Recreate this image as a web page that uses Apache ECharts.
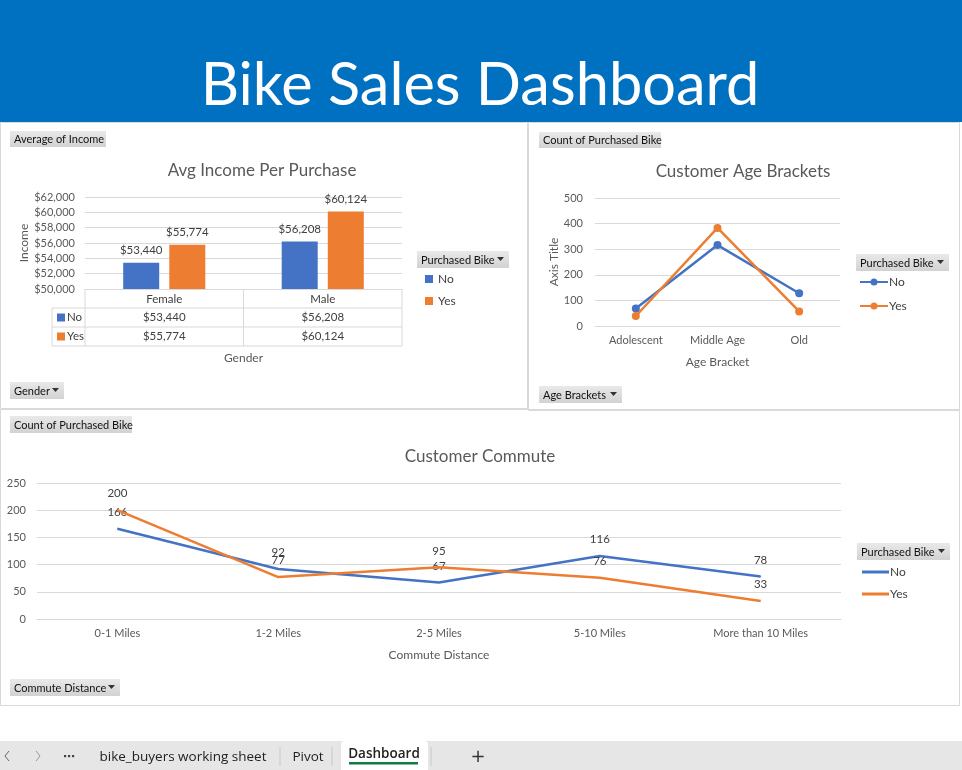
<!DOCTYPE html>
<html><head><meta charset="utf-8">
<script src="https://cdn.jsdelivr.net/npm/echarts@6/dist/echarts.min.js"></script>
<style>html,body{margin:0;padding:0;background:#fff}#c{width:962px;height:770px}</style>
</head><body><div id="c"></div><script>
// ---- data ----
const genderCats = ['Female', 'Male'];
const incomeNo = [53440, 56208];
const incomeYes = [55774, 60124];
const incomeAxis = [50000, 62000, 2000];

const ageCats = ['Adolescent', 'Middle Age', 'Old'];
const ageNo = [68, 316, 128];
const ageYes = [39, 383, 57];
const ageAxis = [0, 500, 100];

const commuteCats = ['0-1 Miles', '1-2 Miles', '2-5 Miles', '5-10 Miles', 'More than 10 Miles'];
const commuteNo = [166, 92, 67, 116, 78];
const commuteYes = [200, 77, 95, 76, 33];
const commuteAxis = [0, 250, 50];

const seriesNames = ['No', 'Yes'];

// ---- styling / layout ----
const BLUE = '#4472C4', ORANGE = '#ED7D31';
const FONT = 'Lato';
const TXT = '#595959', DARK = '#404040', GRID = '#d9d9d9';
const G1 = {left: 85, top: 197, width: 317, height: 92};
const G2 = {left: 595, top: 198, width: 245, height: 128};
const G3 = {left: 37, top: 483, width: 804, height: 136};
const money = v => '$' + Number(v).toLocaleString('en-US');

const els = [];
function text(x, y, t, o) {
  o = o || {};
  els.push({type: 'text', x: x, y: y, z: o.z || 10, rotation: o.rotation || 0, style: {
    text: t, fill: o.fill || '#000', fontSize: o.size || 11, fontFamily: o.family || FONT,
    fontWeight: o.weight || 'normal', align: o.align || 'left', verticalAlign: o.valign || 'middle'}});
}
function line(x1, y1, x2, y2, c, w) {
  els.push({type: 'line', z: 5, shape: {x1: x1, y1: y1, x2: x2, y2: y2}, style: {stroke: c || GRID, lineWidth: w || 1}});
}
function rect(x, y, w, h, o) {
  els.push({type: 'rect', z: o.z || 1, shape: {x: x, y: y, width: w, height: h, r: o.r || 0}, style: {fill: o.fill || 'none', stroke: o.stroke || null, lineWidth: o.lw || 1}});
}
function button(x, y, w, h, label, arrow) {
  els.push({type: 'rect', z: 8, shape: {x: x, y: y, width: w, height: h}, style: {
    fill: new echarts.graphic.LinearGradient(0, 0, 0, 1, [{offset: 0, color: '#e9e9e9'}, {offset: 1, color: '#d2d2d2'}])}});
  text(x + 4, y + h / 2 + 0.5, label, {size: 11, fill: '#111'});
  if (arrow) {
    const ax = x + w - 12, ay = y + h / 2 - 1;
    els.push({type: 'polygon', z: 9, shape: {points: [[ax, ay - 1.5], [ax + 7, ay - 1.5], [ax + 3.5, ay + 2.5]]}, style: {fill: '#333'}});
  }
}

// banner
rect(0, 0, 962, 122, {fill: '#0070C0', z: 0});
text(480, 86, 'Bike Sales Dashboard', {size: 59.5, fill: '#fff', align: 'center'});

// panels
rect(0.5, 122.5, 527, 286, {stroke: GRID});
rect(528.5, 122.5, 431, 288, {stroke: GRID});
rect(0.5, 409.5, 959, 296, {stroke: GRID});

// chart titles
text(262, 171, 'Avg Income Per Purchase', {size: 17, fill: TXT, align: 'center'});
text(743, 172, 'Customer Age Brackets', {size: 17, fill: TXT, align: 'center'});
text(480, 457, 'Customer Commute', {size: 17, fill: TXT, align: 'center'});

// pivot buttons
button(10, 131, 96, 16, 'Average of Income', false);
button(10, 382, 54, 17, 'Gender', true);
button(417, 251, 92, 17, 'Purchased Bike', true);
button(539, 132, 122, 16, 'Count of Purchased Bike', false);
button(539, 386, 83, 17, 'Age Brackets', true);
button(856, 254, 93, 17, 'Purchased Bike', true);
button(10, 416, 122, 17, 'Count of Purchased Bike', false);
button(10, 679, 110, 17, 'Commute Distance', true);
button(857, 543, 93, 17, 'Purchased Bike', true);

// data table under chart 1
(function () {
  const bottom = G1.top + G1.height, rh = 19, x0 = 52, x1 = G1.left + G1.width;
  const n = genderCats.length, cw = G1.width / n;
  line(x0, bottom + rh, x1, bottom + rh);
  line(x0, bottom + 2 * rh, x1, bottom + 2 * rh);
  line(x0, bottom + 3 * rh, x1, bottom + 3 * rh);
  line(x0, bottom + rh, x0, bottom + 3 * rh);
  for (let i = 0; i <= n; i++) line(G1.left + i * cw, bottom, G1.left + i * cw, bottom + 3 * rh);
  const rows = [incomeNo, incomeYes], cols = [BLUE, ORANGE];
  rows.forEach((arr, r) => {
    const cy = bottom + rh * (r + 1) + rh / 2;
    rect(57, cy - 4, 8, 8, {fill: cols[r], z: 9});
    text(67, cy, seriesNames[r], {size: 11.5, fill: DARK});
    arr.forEach((v, i) => text(G1.left + cw * (i + 0.5), cy, money(v), {size: 11.5, fill: DARK, align: 'center'}));
  });
})();

// sheet tab bar
rect(0, 741, 962, 29, {fill: '#e6e6e6', z: 0});
rect(341, 741, 87, 32, {fill: '#ffffff', z: 1, r: 4});
rect(349, 762, 69, 2.5, {fill: '#107C41', z: 2});
els.push({type: 'polyline', z: 5, shape: {points: [[9, 751], [5, 756], [9, 761]]}, style: {stroke: '#666', lineWidth: 1, fill: null}});
els.push({type: 'polyline', z: 5, shape: {points: [[36, 751], [40, 756], [36, 761]]}, style: {stroke: '#999', lineWidth: 1, fill: null}});
[65, 69, 73].forEach(x => rect(x - 1, 755, 2.2, 2.2, {fill: '#444', z: 5}));
text(183, 757, 'bike_buyers working sheet', {size: 13.5, fill: '#222', align: 'center', family: 'Open Sans'});
text(308, 757, 'Pivot', {size: 13.5, fill: '#222', align: 'center', family: 'Open Sans'});
text(384, 754, 'Dashboard', {size: 13.5, fill: '#222', align: 'center', family: 'Open Sans', weight: 600});
text(478, 757, '+', {size: 18, fill: '#333', align: 'center', family: 'DejaVu Sans'});
line(280, 747, 280, 766, '#c8c8c8');
line(332, 747, 332, 766, '#c8c8c8');
line(431, 747, 431, 766, '#c8c8c8');

const axisLabel = {color: TXT, fontSize: 11, fontFamily: FONT};
const nameStyle = {color: TXT, fontSize: 12, fontFamily: FONT};
const splitLine = {lineStyle: {color: GRID, width: 1}};
const legendText = {color: DARK, fontSize: 12, fontFamily: FONT};

const option = {
  animation: false,
  backgroundColor: '#ffffff',
  textStyle: {fontFamily: FONT},
  grid: [
    Object.assign({containLabel: false}, G1),
    Object.assign({containLabel: false}, G2),
    Object.assign({containLabel: false}, G3)
  ],
  xAxis: [
    {type: 'category', gridIndex: 0, data: genderCats, axisTick: {show: false},
      axisLine: {lineStyle: {color: GRID}}, axisLabel: {margin: 4, color: DARK, fontSize: 11.5, fontFamily: FONT},
      name: 'Gender', nameLocation: 'middle', nameGap: 63, nameTextStyle: nameStyle},
    {type: 'category', gridIndex: 1, data: ageCats, axisTick: {show: false},
      axisLine: {lineStyle: {color: GRID}}, axisLabel: Object.assign({margin: 9}, axisLabel),
      name: 'Age Bracket', nameLocation: 'middle', nameGap: 30, nameTextStyle: nameStyle},
    {type: 'category', gridIndex: 2, data: commuteCats, axisTick: {show: false},
      axisLine: {lineStyle: {color: GRID}}, axisLabel: Object.assign({margin: 9}, axisLabel),
      name: 'Commute Distance', nameLocation: 'middle', nameGap: 30, nameTextStyle: nameStyle}
  ],
  yAxis: [
    {type: 'value', gridIndex: 0, min: incomeAxis[0], max: incomeAxis[1], interval: incomeAxis[2],
      axisLabel: Object.assign({margin: 10, formatter: money}, axisLabel, {fontSize: 11}), splitLine: splitLine,
      name: 'Income', nameLocation: 'middle', nameGap: 55, nameMoveOverlap: false, nameTextStyle: nameStyle},
    {type: 'value', gridIndex: 1, min: ageAxis[0], max: ageAxis[1], interval: ageAxis[2],
      axisLabel: Object.assign({margin: 12}, axisLabel), splitLine: splitLine,
      name: 'Axis Title', nameLocation: 'middle', nameGap: 31, nameTextStyle: nameStyle},
    {type: 'value', gridIndex: 2, min: commuteAxis[0], max: commuteAxis[1], interval: commuteAxis[2],
      axisLabel: Object.assign({margin: 11}, axisLabel), splitLine: splitLine}
  ],
  legend: [
    {left: 425, top: 273, orient: 'vertical', padding: 0, itemGap: 10, itemWidth: 8, itemHeight: 8, icon: 'rect',
      data: seriesNames, textStyle: legendText, selectedMode: false},
    {left: 860, top: 276, orient: 'vertical', padding: 0, itemGap: 12, itemWidth: 28, itemHeight: 8,
      icon: 'path://M0,3H28V5H0Z M17.5,4A3.5,3.5 0 1 1 10.5,4A3.5,3.5 0 1 1 17.5,4Z',
      data: seriesNames, textStyle: Object.assign({padding: [0, 0, 0, -4]}, legendText), selectedMode: false},
    {left: 862, top: 566, orient: 'vertical', padding: 0, itemGap: 10, itemWidth: 27, itemHeight: 3, icon: 'rect',
      data: seriesNames, textStyle: Object.assign({padding: [0, 0, 0, -4]}, legendText), selectedMode: false}
  ],
  series: [
    {name: 'No', type: 'bar', xAxisIndex: 0, yAxisIndex: 0, data: incomeNo, barWidth: 36, barGap: '28%',
      itemStyle: {color: BLUE}, label: {show: true, position: 'top', distance: 6, formatter: p => money(p.value), color: DARK, fontSize: 11.5}},
    {name: 'Yes', type: 'bar', xAxisIndex: 0, yAxisIndex: 0, data: incomeYes, barWidth: 36, barGap: '28%',
      itemStyle: {color: ORANGE}, label: {show: true, position: 'top', distance: 6, formatter: p => money(p.value), color: DARK, fontSize: 11.5}},
    {name: 'No', type: 'line', xAxisIndex: 1, yAxisIndex: 1, data: ageNo, symbol: 'circle', symbolSize: 8,
      lineStyle: {color: BLUE, width: 2.5}, itemStyle: {color: BLUE}},
    {name: 'Yes', type: 'line', xAxisIndex: 1, yAxisIndex: 1, data: ageYes, symbol: 'circle', symbolSize: 8,
      lineStyle: {color: ORANGE, width: 2.5}, itemStyle: {color: ORANGE}},
    {name: 'No', type: 'line', xAxisIndex: 2, yAxisIndex: 2, data: commuteNo, symbol: 'circle', symbolSize: 1, z: 3,
      lineStyle: {color: BLUE, width: 2.5}, itemStyle: {color: BLUE},
      label: {show: true, position: 'top', distance: 10, color: DARK, fontSize: 11.5}},
    {name: 'Yes', type: 'line', xAxisIndex: 2, yAxisIndex: 2, data: commuteYes, symbol: 'circle', symbolSize: 1, z: 4,
      lineStyle: {color: ORANGE, width: 2.5}, itemStyle: {color: ORANGE},
      label: {show: true, position: 'top', distance: 10, color: DARK, fontSize: 11.5}}
  ],
  graphic: {elements: els}
};
const chart = echarts.init(document.getElementById('c'), null, {renderer: 'canvas'});
chart.setOption(option);
</script></body></html>
